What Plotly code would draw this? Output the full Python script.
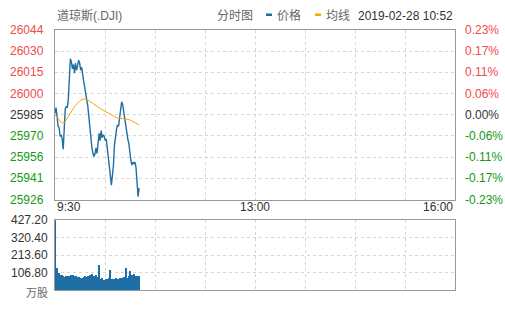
import plotly.graph_objects as go

# ---------------- data ----------------
price = [25986, 25990, 25984, 25977, 25976, 25970, 25971, 25968, 25961, 25976,
         25989, 25991, 25990, 25996, 26008, 26024, 26022, 26017, 26020, 26014,
         26021, 26016, 26019, 26023, 26021, 26016, 26018, 26011, 26008, 26004,
         25998, 25995, 25991, 25983, 25976, 25968, 25962, 25958, 25956, 25958,
         25962, 25958, 25966, 25972, 25967, 25974, 25969, 25971, 25970, 25967,
         25968, 25961, 25956, 25946, 25942, 25936, 25943, 25950, 25964, 25972,
         25975, 25978, 25977, 25983, 25990, 25994, 25992, 25987, 25983, 25976,
         25972, 25968, 25965, 25956, 25953, 25950, 25952, 25951, 25952, 25948,
         25933, 25928, 25934]

avg = [25985.0, 25984.0, 25983.0, 25982.0, 25981.0, 25980.3, 25979.7, 25979.3, 25979.2, 25979.6,
       25980.5, 25981.7, 25983.0, 25984.0, 25985.0, 25986.2, 25987.3, 25988.4, 25989.5, 25990.5,
       25991.5, 25992.4, 25993.2, 25993.9, 25994.5, 25995.0, 25995.4, 25995.7, 25995.9, 25996.0,
       25996.0, 25995.7, 25995.3, 25994.8, 25994.3, 25993.7, 25993.1, 25992.5, 25991.9, 25991.3,
       25990.8, 25990.3, 25989.8, 25989.4, 25989.0, 25988.7, 25988.4, 25988.0, 25987.7, 25987.4,
       25987.0, 25986.7, 25986.3, 25985.9, 25985.5, 25985.0, 25984.5, 25984.0, 25983.5, 25983.2,
       25983.0, 25982.8, 25982.7, 25982.7, 25982.7, 25982.7, 25982.7, 25982.6, 25982.5, 25982.4,
       25982.2, 25982.0, 25981.7, 25981.4, 25981.0, 25980.7, 25980.3, 25980.0, 25979.6, 25979.2,
       25978.8, 25978.4, 25978.0]

volume = [427.2, 135, 135, 104, 104, 90, 88, 88, 82, 78,
          80, 82, 78, 82, 86, 80, 90, 84, 92, 86,
          82, 76, 72, 75, 70, 72, 74, 70, 78, 82,
          76, 80, 84, 78, 92, 80, 96, 86, 76, 84,
          88, 78, 80, 150, 66, 62, 70, 58, 62, 60,
          64, 60, 66, 70, 122, 64, 68, 62, 66, 70,
          62, 66, 60, 72, 68, 74, 70, 78, 66, 132,
          72, 70, 82, 114, 68, 88, 72, 96, 76, 84,
          80, 86, 84]

minutes = list(range(len(price)))

price_labels = ["26044", "26030", "26015", "26000", "25985", "25970", "25956", "25941", "25926"]
pct_labels = ["0.23%", "0.17%", "0.11%", "0.06%", "0.00%", "-0.06%", "-0.11%", "-0.17%", "-0.23%"]
vol_labels = ["427.20", "320.40", "213.60", "106.80"]
vol_ticks = [427.2, 320.4, 213.6, 106.8]
time_labels = ["9:30", "13:00", "16:00"]
time_pos = [0, 195, 390]
y_max, y_min = 26044, 25926
vol_max = 427.2
session_len = 390

# ---------------- style ----------------
W, H = 505, 310
BLUE = "#1f6fa6"
ORANGE = "#f5a800"
RED = "#f04a4a"
GREEN = "#129a12"
DARK = "#333333"
GRAY = "#666666"
GRID = "#d6d6d6"
FRAME = "#999999"
FONT = "Liberation Sans, Arial, Noto Sans CJK SC, sans-serif"

def px(x):
    return x / W

def py(y):
    return 1 - y / H

X_DOM = [px(55), px(455)]
MAIN_DOM = [py(199.5), py(30)]
VOL_DOM = [py(290), py(220.3)]

fig = go.Figure()
fig.add_trace(go.Scatter(x=minutes, y=price, mode="lines",
                         line=dict(color=BLUE, width=1.4), xaxis="x", yaxis="y"))
fig.add_trace(go.Scatter(x=minutes, y=avg, mode="lines",
                         line=dict(color=ORANGE, width=1), xaxis="x", yaxis="y"))
fig.add_trace(go.Bar(x=minutes, y=volume, marker=dict(color=BLUE, line=dict(width=0)),
                     width=1, xaxis="x2", yaxis="y2"))

grid_x = [session_len * i / 8 for i in range(9)]
step = (y_max - y_min) / 8
grid_y = [y_max - i * step for i in range(9)]

axis_common = dict(showgrid=True, gridcolor=GRID, griddash="3px,3px", gridwidth=1,
                   showline=True, linecolor=FRAME, linewidth=1, mirror=True,
                   zeroline=False, showticklabels=False, ticks="", fixedrange=True)

fig.update_layout(
    width=W, height=H,
    margin=dict(l=0, r=0, t=0, b=0),
    paper_bgcolor="white", plot_bgcolor="white",
    showlegend=False, bargap=0,
    font=dict(family=FONT, size=12, color=DARK),
    xaxis=dict(domain=X_DOM, range=[0, session_len], tickvals=grid_x, anchor="y", **axis_common),
    yaxis=dict(domain=MAIN_DOM, range=[y_min, y_max], tickvals=grid_y, anchor="x", **axis_common),
    xaxis2=dict(domain=X_DOM, range=[0, session_len], tickvals=grid_x, anchor="y2",
                layer="above traces", **axis_common),
    yaxis2=dict(domain=VOL_DOM, range=[0, vol_max], tickvals=vol_ticks, anchor="x2",
                layer="above traces", **axis_common),
)

ann = []
for i, (lab, pl) in enumerate(zip(price_labels, pct_labels)):
    yv = grid_y[i]
    col = RED if i < 4 else (DARK if i == 4 else GREEN)
    ann.append(dict(x=px(46), xref="paper", y=yv, yref="y", text=lab, showarrow=False,
                    xanchor="right", yanchor="middle", font=dict(color=col, size=12)))
    ann.append(dict(x=px(463), xref="paper", y=yv, yref="y", text=pl, showarrow=False,
                    xanchor="left", yanchor="middle", font=dict(color=col, size=12)))

for lab, v in zip(vol_labels, vol_ticks):
    ann.append(dict(x=px(50), xref="paper", y=v, yref="y2", text=lab, showarrow=False,
                    xanchor="right", yanchor="middle", font=dict(color=DARK, size=12)))
ann.append(dict(x=px(50), xref="paper", y=py(293), yref="paper", text="万股", showarrow=False,
                xanchor="right", yanchor="middle", font=dict(color=GRAY, size=11)))

for lab, pos, anc in zip(time_labels, time_pos, ["left", "center", "right"]):
    ann.append(dict(x=pos, xref="x", y=py(207), yref="paper", text=lab, showarrow=False,
                    xanchor=anc, yanchor="middle", font=dict(color=DARK, size=12)))

ty = py(15.5)
ann.append(dict(x=px(55), xref="paper", y=ty, yref="paper", text="道琼斯(.DJI)", showarrow=False,
                xanchor="left", yanchor="middle", font=dict(color=GRAY, size=12)))
ann.append(dict(x=px(255), xref="paper", y=ty, yref="paper", text="分时图", showarrow=False,
                xanchor="right", yanchor="middle", font=dict(color=GRAY, size=12)))
ann.append(dict(x=px(275), xref="paper", y=ty, yref="paper", text="价格", showarrow=False,
                xanchor="left", yanchor="middle", font=dict(color=GRAY, size=12)))
ann.append(dict(x=px(324), xref="paper", y=ty, yref="paper", text="均线", showarrow=False,
                xanchor="left", yanchor="middle", font=dict(color=GRAY, size=12)))
ann.append(dict(x=px(455), xref="paper", y=ty, yref="paper", text="2019-02-28 10:52", showarrow=False,
                xanchor="right", yanchor="middle", font=dict(color=DARK, size=12)))

shapes = [
    dict(type="rect", xref="paper", yref="paper", x0=px(266), x1=px(272), y0=py(16), y1=py(13.5),
         fillcolor=BLUE, line=dict(width=0)),
    dict(type="rect", xref="paper", yref="paper", x0=px(315), x1=px(321), y0=py(16), y1=py(13.5),
         fillcolor=ORANGE, line=dict(width=0)),
]

fig.update_layout(annotations=ann, shapes=shapes)
fig.write_html("out.html")
